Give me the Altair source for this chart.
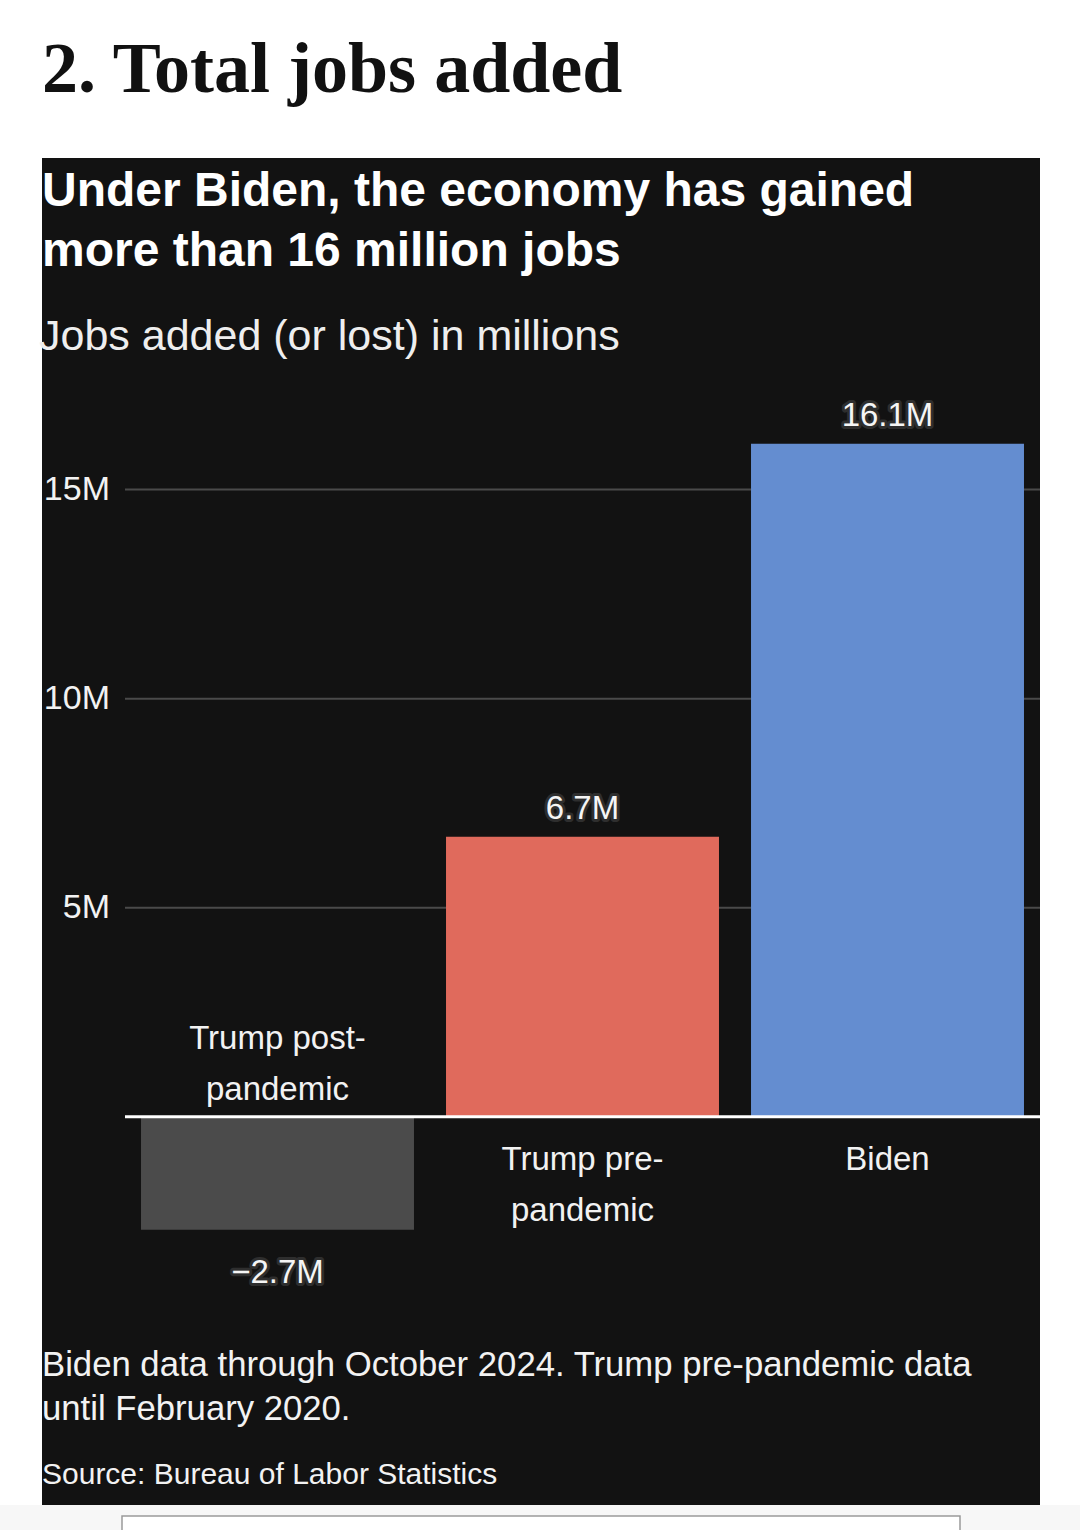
import altair as alt
import pandas as pd

# ---- data ----
categories = ["Trump post-pandemic", "Trump pre-pandemic", "Biden"]
cat_labels = ["Trump post-\npandemic", "Trump pre-\npandemic", "Biden"]
values = [-2.7, 6.7, 16.1]
bar_colors = ["#4b4b4b", "#e06a5c", "#648dd0"]
y_ticks = [5, 10, 15]

page_title = "2. Total jobs added"
chart_title = "Under Biden, the economy has gained\nmore than 16 million jobs"
subtitle = "Jobs added (or lost) in millions"
note = "Biden data through October 2024. Trump pre-pandemic data\nuntil February 2020."
source = "Source: Bureau of Labor Statistics"

df = pd.DataFrame({"cat": categories, "label": cat_labels, "value": values})
ticks_df = pd.DataFrame({"t": y_ticks})
one = pd.DataFrame({"k": [0]})

PANEL = "#121212"
FONT = "Liberation Sans"

W, H = 915, 878
PAD_L, PAD_T = 125, 406

yscale = alt.Scale(domain=[-4, 17], nice=False)


def X():
    return alt.X("cat:N", sort=categories, axis=None, bandPosition=0.5)


base = alt.Chart(df)

grid = alt.Chart(ticks_df).mark_rule(color="#4a4a4a", strokeWidth=2).encode(
    y=alt.Y("t:Q", scale=yscale, axis=None))
grid_labels = alt.Chart(ticks_df).transform_calculate(lab="datum.t + 'M'").mark_text(
    align="right", baseline="middle", fontSize=34, font=FONT, color="#f2f2f2", dx=-15).encode(
    x=alt.value(0), y=alt.Y("t:Q", axis=None), text="lab:N")

bars = base.mark_bar().encode(
    x=alt.X("cat:N", sort=categories, axis=None,
            scale=alt.Scale(paddingInner=0.105, paddingOuter=0.0525)),
    y=alt.Y("value:Q", axis=None),
    y2=alt.Y2("zero:Q"),
    color=alt.Color("cat:N", scale=alt.Scale(domain=categories, range=bar_colors), legend=None),
).transform_calculate(zero="0")

zero = alt.Chart(one).transform_calculate(z="0").mark_rule(
    color="white", strokeWidth=3).encode(y=alt.Y("z:Q", axis=None))

val = base.transform_calculate(
    txt="(datum.value < 0 ? '\u2212' : '') + format(abs(datum.value), '.1f') + 'M'"
)


def val_layer(filt, dy):
    b = val.transform_filter(filt)
    halo = b.mark_text(fontSize=33, font=FONT, baseline="alphabetic", dy=dy,
                       stroke="#2e2e2e", strokeWidth=6, strokeJoin="round", fill="#2e2e2e").encode(
        x=X(), y=alt.Y("value:Q", axis=None), text="txt:N")
    txt = b.mark_text(fontSize=33, font=FONT, baseline="alphabetic", dy=dy, color="#f5f5f5").encode(
        x=X(), y=alt.Y("value:Q", axis=None), text="txt:N")
    return halo + txt


pos_vals = val_layer("datum.value >= 0", -18)
neg_vals = val_layer("datum.value < 0", 53)


def cat_layer(filt, dy):
    return base.transform_filter(filt).transform_calculate(z="0").mark_text(
        fontSize=33, font=FONT, baseline="alphabetic", dy=dy, lineBreak="\n",
        lineHeight=51, color="#f2f2f2").encode(
        x=X(), y=alt.Y("z:Q", axis=None), text="label:N")


pos_cats = cat_layer("datum.value >= 0", 53)
neg_cats = cat_layer("datum.value < 0", -68)


def rect(x1, x2, y1, y2, fill="white", stroke=None):
    kw = dict(fill=fill)
    if stroke:
        kw.update(stroke=stroke, strokeWidth=1.5)
    return alt.Chart(one).mark_rect(**kw).encode(
        x=alt.value(x1 - PAD_L), x2=alt.value(x2 - PAD_L),
        y=alt.value(y1 - PAD_T), y2=alt.value(y2 - PAD_T))


# white page areas outside the dark panel
outside = (rect(0, 1080, 0, 158) + rect(0, 42, 0, 1530) + rect(1040, 1080, 0, 1530)
           + rect(0, 1080, 1505, 1530, fill="#f7f7f7")
           + rect(122, 960, 1516, 1545, fill="white", stroke="#9a9a9a"))


def text(s, x, y, size, color, weight="normal", font=FONT, lh=None):
    kw = dict(fontSize=size, font=font, fontWeight=weight, color=color,
              align="left", baseline="alphabetic", lineBreak="\n")
    if lh:
        kw["lineHeight"] = lh
    return alt.Chart(one).mark_text(**kw).encode(
        x=alt.value(x - PAD_L), y=alt.value(y - PAD_T), text=alt.value(s))


texts = (
    text(page_title, 42, 92, 72, "#111111", weight="bold", font="Liberation Serif")
    + text(chart_title, 42, 206, 48, "#ffffff", weight="bold", lh=60)
    + text(subtitle, 39, 350, 43, "#eeeeee")
    + text(note, 42, 1376, 34.7, "#f2f2f2", lh=44)
    + text(source, 42, 1484, 30, "#f2f2f2")
)

chart = alt.layer(
    grid, bars, grid_labels, zero, pos_vals, neg_vals, pos_cats, neg_cats, outside, texts
).properties(
    width=W, height=H,
    background=PANEL,
    padding={"left": PAD_L, "top": PAD_T, "right": 1080 - PAD_L - W, "bottom": 1530 - PAD_T - H},
    autosize=alt.AutoSizeParams(type="none"),
).configure_view(stroke=None)

chart.save("out.html", embed_options={"renderer": "svg", "actions": False})
